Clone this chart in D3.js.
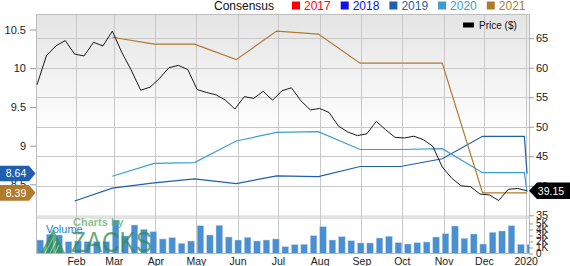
<!DOCTYPE html>
<html>
<head>
<meta charset="utf-8">
<script src="https://cdn.jsdelivr.net/npm/d3@7"></script>
<style>
  body { margin: 0; background: #fff; }
  svg { display: block; font-family: "Liberation Sans", Arial, sans-serif; }
</style>
</head>
<body>
<svg id="chart"></svg>
<script>
// weekly closing price ($), first week starts 2019-01-03
const priceStart = "2019-01-03";
const prices = [
  57.1, 62.0, 63.7, 64.6, 62.3, 62.0, 64.3, 63.7, 66.2, 62.6,
  59.6, 56.2, 56.7, 58.2, 60.0, 60.4, 59.7, 56.3, 55.8, 55.4,
  54.5, 53.0, 55.1, 54.8, 56.0, 54.5, 56.1, 56.6, 54.4, 52.85,
  53.1, 52.4, 50.1, 49.1, 48.5, 48.8, 50.9, 49.5, 48.2, 48.1,
  48.4, 47.8, 46.7, 43.2, 41.3, 40.0, 39.85, 38.6, 38.45, 37.5,
  39.4, 39.55, 39.15
];
// weekly volume (thousands)
const volumes = [
  2.25, 3.2, 3.08, 1.97, 2.08, 1.97, 1.97, 1.97, 5.58, 2.92,
  4.75, 4.03, 3.63, 2.42, 2.63, 1.7, 2.08, 4.63, 3.08, 4.7,
  2.75, 2.25, 2.7, 2.08, 2.25, 2.42, 1.13, 1.47, 1.53, 2.97,
  4.47, 2.25, 2.8, 2.13, 1.75, 1.75, 2.58, 2.87, 1.8, 1.58,
  1.8, 1.92, 2.75, 3.3, 4.58, 2.53, 3.25, 1.58, 3.53, 3.75,
  4.63, 1.53, 1.53
];

// consensus EPS estimates
const consensusDates = [
  "2019-01-31", "2019-02-28", "2019-03-31", "2019-04-30", "2019-05-31", "2019-06-30",
  "2019-07-31", "2019-08-31", "2019-09-30", "2019-10-31", "2019-11-30", "2019-12-31", "2020-01-02"
];
const cons2019 = [8.285, 8.45, 8.52, 8.57, 8.51, 8.61, 8.60, 8.73, 8.73, 8.83, 9.12, 9.12, 8.64];
const cons2020 = [null, 8.605, 8.77, 8.78, 9.06, 9.17, 9.18, 8.95, 8.95, 8.96, 8.65, 8.65, 8.40];
const cons2021 = [null, 10.40, 10.31, 10.31, 10.11, 10.48, 10.44, 10.065, 10.065, 10.065, 8.39, 8.39, 8.39];

const monthTicks = [
  "2019-02-01", "2019-03-01", "2019-04-01", "2019-05-01", "2019-06-01", "2019-07-01",
  "2019-08-01", "2019-09-01", "2019-10-01", "2019-11-01", "2019-12-01", "2020-01-01"
];
const monthLabels = ["Feb", "Mar", "Apr", "May", "Jun", "Jul", "Aug", "Sep", "Oct", "Nov", "Dec", "2020"];
const leftTicks = [8.5, 9, 9.5, 10, 10.5];
const rightTicks = [35, 40, 45, 50, 55, 60, 65];
const volumeTicks = [0, 1, 2, 3, 4, 5];
const legendYears = ["2017", "2018", "2019", "2020", "2021"];
const legendColors = ["#ff0000", "#1010f0", "#1f5fae", "#3a9fd0", "#b07b2c"];

// layout
const width = 570, height = 266;
const plotLeft = 36, plotRight = 529, plotTop = 14, mainBottom = 215.3, volTop = 219, volBottom = 253.5;

const parse = d3.timeParse("%Y-%m-%d");

const x = d3.scaleTime()
    .domain([new Date(2019, 0, 2, 7), new Date(2020, 0, 3, 11)])
    .range([plotLeft, plotRight]);
const yLeft = d3.scaleLinear().domain([8.1, 10.7]).range([mainBottom, plotTop]);
const yRight = d3.scaleLinear().domain([35, 69.1]).range([mainBottom, plotTop]);
const yVol = d3.scaleLinear().domain([0, 6]).range([volBottom, 217.5]);

const priceData = prices.map((v, i) => ({ date: d3.timeDay.offset(parse(priceStart), 7 * i), v: v, vol: volumes[i] }));
const consDates = consensusDates.map(parse);
const series = [
  { color: legendColors[2], values: cons2019 },
  { color: legendColors[3], values: cons2020 },
  { color: legendColors[4], values: cons2021 }
].map(s => ({ color: s.color, points: s.values.map((v, i) => ({ date: consDates[i], v: v })) }));

const svg = d3.select("#chart")
    .attr("width", width)
    .attr("height", height)
    .attr("viewBox", [0, 0, width, height]);

const defs = svg.append("defs");
const grad = defs.append("linearGradient")
    .attr("id", "bg").attr("x1", 0).attr("x2", 0).attr("y1", 0).attr("y2", 1);
grad.append("stop").attr("offset", "0%").attr("stop-color", "#e4e4e4");
grad.append("stop").attr("offset", "60%").attr("stop-color", "#ffffff");
defs.append("clipPath").attr("id", "volclip")
  .append("rect").attr("x", plotLeft).attr("y", volTop).attr("width", plotRight - plotLeft).attr("height", volBottom - volTop);

// panels
svg.append("rect")
    .attr("x", plotLeft).attr("y", plotTop).attr("width", plotRight - plotLeft).attr("height", mainBottom - plotTop)
    .attr("fill", "url(#bg)");
svg.append("rect")
    .attr("x", plotLeft).attr("y", mainBottom).attr("width", plotRight - plotLeft).attr("height", volTop - mainBottom)
    .attr("fill", "#e2e2e2");

// grid
const grid = svg.append("g").attr("stroke", "#c8c8c8").attr("stroke-width", 1);
grid.selectAll(".h")
  .data(rightTicks.filter(d => d > 35))
  .join("line")
    .attr("x1", plotLeft).attr("x2", plotRight)
    .attr("y1", d => Math.round(yRight(d)) + 0.5)
    .attr("y2", d => Math.round(yRight(d)) + 0.5);
grid.selectAll(".v")
  .data(monthTicks.map(parse))
  .join("line")
    .attr("x1", d => Math.round(x(d)) + 0.5).attr("x2", d => Math.round(x(d)) + 0.5)
    .attr("y1", plotTop).attr("y2", volBottom);

// frame
svg.append("path")
    .attr("d", `M${plotLeft + 0.5},${volBottom}V${plotTop + 0.5}H${plotRight + 0.5}V${volBottom}H${plotLeft}`)
    .attr("fill", "none").attr("stroke", "#bdbdbd");

// volume bars
const step = x(d3.timeDay.offset(parse(priceStart), 7)) - x(parse(priceStart));
svg.append("g")
    .attr("clip-path", "url(#volclip)")
  .selectAll("rect")
  .data(priceData)
  .join("rect")
    .attr("x", d => x(d.date))
    .attr("y", d => yVol(d.vol))
    .attr("width", step * 0.7)
    .attr("height", d => yVol(0) - yVol(d.vol))
    .attr("fill", "#4a8fcf")
    .attr("stroke", "#b7d3ee")
    .attr("stroke-width", 0.5);

// zacks watermark
const wm = svg.append("g").attr("opacity", 0.72);
wm.append("path")
    .attr("d", "M41,253 L53,229 L65,253 Z")
    .attr("fill", "#2f8f4a");
wm.append("path")
    .attr("d", "M45,253 L53,238 M50,253 L56,241 M55,253 L59,245")
    .attr("stroke", "#8fd19a").attr("stroke-width", 1.2);
wm.append("text")
    .attr("x", 73).attr("y", 226)
    .attr("font-size", 11).attr("font-weight", "bold")
    .attr("fill", "#5aae66")
    .text("Charts by");
wm.append("text")
    .attr("x", 71).attr("y", 252)
    .attr("font-size", 29)
    .attr("textLength", 81).attr("lengthAdjust", "spacingAndGlyphs")
    .attr("fill", "#2f8a4c")
    .text("ZACKS");
svg.append("text")
    .attr("x", 46).attr("y", 233)
    .attr("font-size", 11)
    .attr("fill", "#2a7fcb")
    .text("Volume");

// consensus lines
const consLine = d3.line()
    .defined(d => d.v != null)
    .x(d => x(d.date))
    .y(d => yLeft(d.v));
svg.append("g")
    .attr("fill", "none")
    .attr("stroke-width", 1.2)
  .selectAll("path")
  .data(series)
  .join("path")
    .attr("stroke", d => d.color)
    .attr("d", d => consLine(d.points));

// price line
svg.append("path")
    .datum(priceData)
    .attr("fill", "none")
    .attr("stroke", "#1a1a1a")
    .attr("stroke-width", 1)
    .attr("d", d3.line().x(d => x(d.date)).y(d => yRight(d.v)));

// axes
const styleAxis = g => {
  g.select(".domain").remove();
  g.selectAll(".tick line").attr("stroke", "#999");
  g.selectAll(".tick text").attr("fill", "#222");
};
svg.append("g")
    .attr("transform", `translate(${plotLeft},0)`)
    .call(d3.axisLeft(yLeft).tickValues(leftTicks).tickSize(6).tickPadding(4).tickFormat(d => String(d)))
    .attr("font-family", null).attr("font-size", 11)
    .call(styleAxis);
svg.append("g")
    .attr("transform", `translate(${plotRight},0)`)
    .call(d3.axisRight(yRight).tickValues(rightTicks).tickSize(5).tickPadding(2))
    .attr("font-family", null).attr("font-size", 11)
    .call(styleAxis);
svg.append("g")
    .attr("transform", `translate(${plotRight},0)`)
    .call(d3.axisRight(yVol).tickValues(volumeTicks).tickSize(4).tickPadding(3).tickFormat(d => d ? d + "K" : "0"))
    .attr("font-family", null).attr("font-size", 10)
    .call(styleAxis);
svg.append("g")
    .attr("transform", `translate(0,${volBottom})`)
    .call(d3.axisBottom(x).tickValues(monthTicks.map(parse)).tickSize(0).tickPadding(4)
      .tickFormat((d, i) => monthLabels[i]))
    .attr("font-family", null).attr("font-size", 10.5)
    .call(styleAxis);

// legend
const legend = svg.append("g").attr("font-size", 12);
legend.append("text").attr("x", 214).attr("y", 9.5).attr("fill", "#111").text("Consensus");
const items = legend.selectAll(".item")
  .data(legendYears)
  .join("g")
    .attr("transform", (d, i) => `translate(${292 + i * 48.7},0)`);
items.append("rect")
    .attr("x", 0).attr("y", 1.5).attr("width", 8).attr("height", 8)
    .attr("fill", (d, i) => legendColors[i]);
items.append("text")
    .attr("x", 12).attr("y", 9.5)
    .attr("fill", (d, i) => legendColors[i])
    .text(d => d);

const priceLegend = svg.append("g");
priceLegend.append("rect").attr("x", 463).attr("y", 22.5).attr("width", 11).attr("height", 5).attr("fill", "#000");
priceLegend.append("text").attr("x", 479).attr("y", 29).attr("font-size", 10).attr("fill", "#111").text("Price ($)");

// value badges
const badges = [
  { v: cons2019[cons2019.length - 1], color: legendColors[2] },
  { v: cons2021[cons2021.length - 1], color: legendColors[4] }
];
const badge = svg.append("g").selectAll("g")
  .data(badges)
  .join("g")
    .attr("transform", d => `translate(0,${yLeft(d.v)})`);
badge.append("path")
    .attr("d", "M0,-7.8H29L35.5,0L29,7.8H0Z")
    .attr("fill", d => d.color);
badge.append("text")
    .attr("x", 16).attr("y", 4)
    .attr("text-anchor", "middle")
    .attr("font-size", 10.5)
    .attr("fill", "#fff")
    .text(d => d.v.toFixed(2));

const lastPrice = prices[prices.length - 1];
const pb = svg.append("g").attr("transform", `translate(0,${yRight(lastPrice)})`);
pb.append("path")
    .attr("d", `M${plotRight},0L${plotRight + 8},-8.3H${width}V8.3H${plotRight + 8}Z`)
    .attr("fill", "#000");
pb.append("text")
    .attr("x", 551).attr("y", 4)
    .attr("text-anchor", "middle")
    .attr("font-size", 10.5)
    .attr("fill", "#fff")
    .text(lastPrice.toFixed(2));
</script>
</body>
</html>
